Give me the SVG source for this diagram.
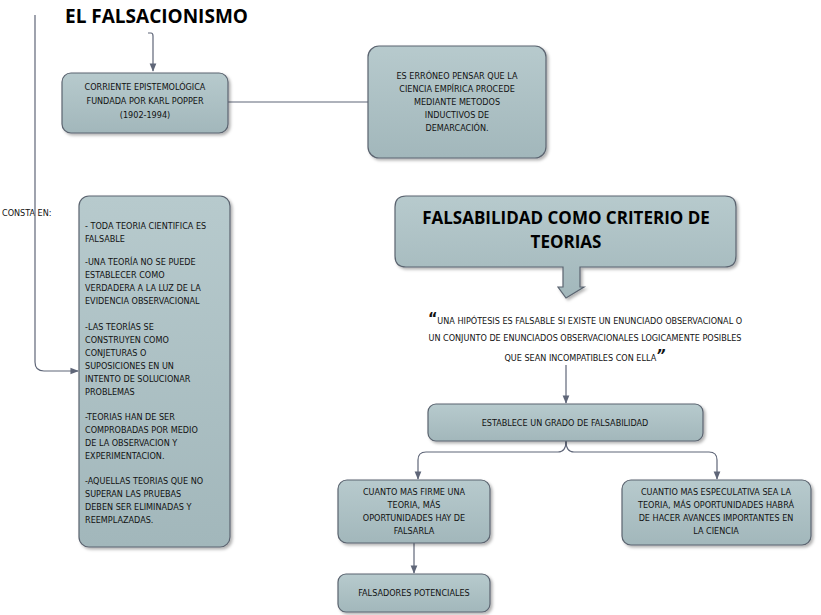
<svg xmlns="http://www.w3.org/2000/svg" width="821" height="615" viewBox="0 0 821 615">
<defs>
<linearGradient id="g" x1="0" y1="0" x2="0" y2="1"><stop offset="0" stop-color="#b7cacd"/><stop offset="1" stop-color="#a2b7bb"/></linearGradient>
<filter id="sh" x="-10%" y="-10%" width="130%" height="130%"><feDropShadow dx="2" dy="2" stdDeviation="1.5" flood-color="#000" flood-opacity="0.3"/></filter>
<marker id="ah" viewBox="0 0 10 10" refX="9" refY="5" markerWidth="7" markerHeight="7" orient="auto"><path d="M0,1 L10,5 L0,9 z" fill="#5f6678"/></marker>
</defs>
<style>
.n{fill:url(#g);stroke:#5b6470;stroke-width:1.2;filter:url(#sh)}
.t{font-family:"DejaVu Sans Condensed","Liberation Sans",sans-serif;font-size:9px;fill:#111}
.c{text-anchor:middle}
.e{fill:none;stroke:#5f6678;stroke-width:1.2}
.h{font-family:"Open Sans","Liberation Sans",sans-serif;font-weight:bold;fill:#000}
</style>
<rect width="821" height="615" fill="#fff"/>
<text class="h" x="65" y="23" font-size="19">EL FALSACIONISMO</text>
<text class="t" x="2" y="216">CONSTA EN:</text>
<g id="connectors">
<path class="e" d="M35,15 V362 Q35,371 44,371 H78" marker-end="url(#ah)"/>
<path class="e" d="M148,33 H151 Q153,33 153,36 V71" marker-end="url(#ah)"/>
<path class="e" d="M228,102 H395" marker-end="url(#ah)"/>
<path class="e" d="M566,365 V403" marker-end="url(#ah)"/>
<path class="e" d="M566,441 Q566,452 558,452 H426 Q418,452 418,460 V479" marker-end="url(#ah)"/>
<path class="e" d="M566,441 Q566,452 574,452 H709 Q717,452 717,460 V479" marker-end="url(#ah)"/>
<path class="e" d="M414,543 V573" marker-end="url(#ah)"/>
</g>
<g id="n1"><rect class="n" x="62" y="73" width="166" height="60" rx="9"/>
<text class="t c" x="145" y="90">CORRIENTE EPISTEMOLÓGICA</text><text class="t c" x="145" y="104">FUNDADA POR KARL POPPER</text><text class="t c" x="145" y="118">(1902-1994)</text></g>
<g id="n2"><rect class="n" x="368" y="46" width="178" height="112" rx="11"/>
<text class="t c" x="457" y="79">ES ERRÓNEO PENSAR QUE LA</text><text class="t c" x="457" y="92">CIENCIA EMPÍRICA PROCEDE</text><text class="t c" x="457" y="105">MEDIANTE METODOS</text><text class="t c" x="457" y="118">INDUCTIVOS DE</text><text class="t c" x="457" y="131">DEMARCACIÓN.</text></g>
<g id="n3"><rect class="n" x="79" y="196" width="151" height="351" rx="10"/>
<text class="t" x="85">
<tspan x="85" y="229">- TODA TEORIA CIENTIFICA ES</tspan><tspan x="85" y="242">FALSABLE</tspan>
<tspan x="85" y="265">-UNA TEORÍA NO SE PUEDE</tspan><tspan x="85" y="278">ESTABLECER COMO</tspan><tspan x="85" y="291">VERDADERA A LA LUZ DE LA</tspan><tspan x="85" y="304">EVIDENCIA OBSERVACIONAL</tspan>
<tspan x="85" y="330">-LAS TEORÍAS SE</tspan><tspan x="85" y="343">CONSTRUYEN COMO</tspan><tspan x="85" y="356">CONJETURAS O</tspan><tspan x="85" y="369">SUPOSICIONES EN UN</tspan><tspan x="85" y="382">INTENTO DE SOLUCIONAR</tspan><tspan x="85" y="395">PROBLEMAS</tspan>
<tspan x="85" y="420">-TEORIAS HAN DE SER</tspan><tspan x="85" y="433">COMPROBADAS POR MEDIO</tspan><tspan x="85" y="446">DE LA OBSERVACION Y</tspan><tspan x="85" y="459">EXPERIMENTACION.</tspan>
<tspan x="85" y="484">-AQUELLAS TEORIAS QUE NO</tspan><tspan x="85" y="497">SUPERAN LAS PRUEBAS</tspan><tspan x="85" y="510">DEBEN SER ELIMINADAS Y</tspan><tspan x="85" y="523">REEMPLAZADAS.</tspan>
</text></g>
<g id="n4"><path class="n" d="M406,196 H725 Q736,196 736,207 V256 Q736,267 725,267 H580 V287 H584 L566,298 L558,287 H563 V267 H406 Q395,267 395,256 V207 Q395,196 406,196 Z" transform="translate(0,0)"/>
<text class="h c" x="566" y="224" font-size="17">FALSABILIDAD COMO CRITERIO DE</text><text class="h c" x="566" y="248" font-size="17">TEORIAS</text></g>
<g id="quote">
<text class="t c" x="585" y="324"><tspan font-size="16" font-weight="bold">“</tspan>UNA HIPÓTESIS ES FALSABLE SI EXISTE UN ENUNCIADO OBSERVACIONAL O</text>
<text class="t c" x="585" y="341">UN CONJUNTO DE ENUNCIADOS OBSERVACIONALES LOGICAMENTE POSIBLES</text>
<text class="t c" x="585" y="361">QUE SEAN INCOMPATIBLES CON ELLA<tspan font-size="16" font-weight="bold" font-style="italic">”</tspan></text>
</g>
<g id="n5"><rect class="n" x="428" y="404" width="275" height="37" rx="8"/><text class="t c" x="565" y="426">ESTABLECE UN GRADO DE FALSABILIDAD</text></g>
<g id="n6"><rect class="n" x="338" y="480" width="152" height="63" rx="9"/>
<text class="t c" x="414" y="495">CUANTO MAS FIRME UNA</text><text class="t c" x="414" y="508">TEORIA, MÁS</text><text class="t c" x="414" y="521">OPORTUNIDADES HAY DE</text><text class="t c" x="414" y="534">FALSARLA</text></g>
<g id="n7"><rect class="n" x="622" y="480" width="189" height="65" rx="9"/>
<text class="t c" x="716" y="495">CUANTIO MAS ESPECULATIVA SEA LA</text><text class="t c" x="716" y="508">TEORIA, MÁS OPORTUNIDADES HABRÁ</text><text class="t c" x="716" y="521">DE HACER AVANCES IMPORTANTES EN</text><text class="t c" x="716" y="534">LA CIENCIA</text></g>
<g id="n8"><rect class="n" x="338" y="574" width="152" height="38" rx="8"/><text class="t c" x="414" y="596">FALSADORES POTENCIALES</text></g>
</svg>
